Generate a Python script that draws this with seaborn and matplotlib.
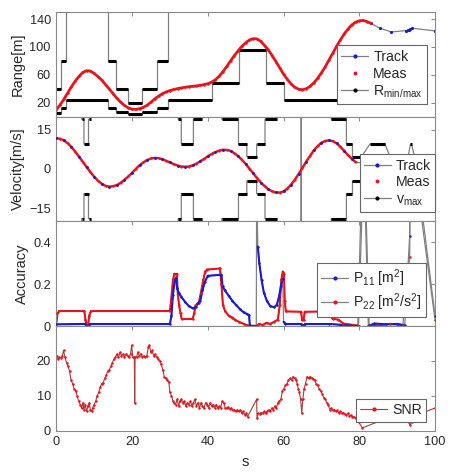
import numpy as np
import pandas as pd
import seaborn as sns
import matplotlib.pyplot as plt
from matplotlib.lines import Line2D

# ---------------- range panel ----------------
range_s = list(range(0, 84))
range_meas = [10, 17, 25, 34, 43, 51, 58, 63.5, 66, 65.5, 62, 57.5, 52.5, 46, 39.6, 33, 26.4, 20.8, 16.1, 12.7,
              10.8, 10.5, 11.5, 13.5, 16.5, 21, 25.5, 29.5, 33, 35.5, 37.5, 39, 40.3, 41.3, 42.2, 43, 43.6, 44.2,
              45, 46, 47.3, 49.5, 53, 58, 64.5, 72, 80, 87.5, 94.5, 101, 106, 110, 112, 111.5, 108, 102, 95.7,
              87.5, 79, 70, 61, 53.5, 47, 42, 39.4, 38.7, 40.1, 43.5, 48.5, 55, 62.9, 71.5, 81.3, 91, 101, 110,
              118.6, 125.5, 131.5, 135.5, 137.5, 138, 136.5, 134]
range_track_s = [83, 85.4, 88.5, 92.4, 92.8, 93.2, 93.5, 93.8, 100]
range_track = [134, 127, 121.5, 123.5, 124, 125, 126, 127, 123]

rmax_s = [0, 1.2, 1.2, 2.6, 2.6, 13.7, 13.7, 15.8, 15.8, 18.8, 18.8, 22.5, 22.5, 26.5, 26.5, 29.6, 29.6, 100]
rmax_v = [40, 40, 80, 80, 170, 170, 80, 80, 40, 40, 20, 20, 40, 40, 80, 80, 170, 170]
rmin_s = [0, 1.2, 1.2, 2.6, 2.6, 13.7, 13.7, 15.8, 15.8, 18.8, 18.8, 22.5, 22.5, 26.5, 26.5, 29.6, 29.6,
          41, 41, 48.3, 48.3, 55.4, 55.4, 60, 60, 80]
rmin_v = [6, 6, 12, 12, 24, 24, 12, 12, 6.5, 6.5, 3.2, 3.2, 6.5, 6.5, 12, 12, 24, 24, 48, 48, 96, 96, 48, 48,
          24, 24]

# ---------------- velocity panel ----------------
vel_s = list(range(0, 80))
vel_meas = [11.8, 11.5, 10.9, 9.8, 8.4, 6.6, 4.7, 2.7, 0.7, -1.2, -3.0, -4.5, -5.7, -6.5, -6.8, -6.6, -6.2, -5.3,
            -4.2, -2.9, -1.5, 0.0, 1.4, 2.5, 3.4, 4.0, 4.2, 4.1, 3.7, 3.1, 2.5, 1.8, 1.3, 0.9, 0.8, 0.9, 1.35,
            2.0, 2.9, 3.8, 4.8, 5.7, 6.4, 7.0, 7.3, 7.25, 6.9, 6.0, 4.9, 3.5, 1.9, 0.1, -1.7, -3.5, -5.2, -6.6,
            -7.8, -8.6, -9.0, -9.05, -8.6, -7.5, -6.0, -4.1, -1.9, 0.4, 2.8, 5.0, 7.1, 8.7, 10.0, 10.7, 10.9,
            10.6, 9.8, 8.5, 6.9, 5.3, 3.9, 2.6]
vel_tail_s = [79, 88, 97.6, 100]
vel_tail = [2.6, 1.0, -0.3, -4.2]

vmax_s = [0, 6.7, 6.7, 7.3, 7.3, 8.5, 8.5, 9.1, 9.1, 32.2, 32.2, 33.0, 33.0, 36.2, 36.2, 38.4, 38.4, 43.7,
          43.7, 48.1, 48.1, 50.3, 50.3, 52.9, 52.9, 55.1, 55.1, 58.2, 58.2, 64.7, 64.7, 64.7, 64.7, 72.6, 72.6,
          76.6, 76.6, 78.2, 78.2, 80.6, 82.8, 86.8, 88.1, 92.9, 93.5, 93.8, 95]
vmax_v = [25, 25, 19, 19, 9.5, 9.5, 19, 19, 25, 25, 19, 19, 9.5, 9.5, 19, 19, 25, 25, 19, 19, 9.5, 9.5, 4.7,
          4.7, 9.5, 9.5, 19, 19, 25, 25, -25, -25, 25, 25, 19, 19, 9.5, 9.5, 4.7, 4.7, 9.5, 9.5, 4.7, 4.7,
          9.5, 9.5, 2]

# ---------------- accuracy panel ----------------
p11_s = [0, 7.6, 8.0, 8.5, 8.9, 30.0, 30.4, 30.8, 31.3, 31.6, 31.9, 32.3, 33.0, 34.0, 35.0, 36.0, 36.8, 37.5,
         38.0, 38.6, 39.2, 40.0, 43.6, 43.9, 44.5, 45.5, 46.5, 47.5, 48.5, 49.5, 50.3, 50.9, 51.1, 52.8, 52.9,
         53.0, 53.2, 53.6, 54.2, 54.8, 55.6, 56.5, 57.5, 58.2, 58.8, 59.3, 59.8, 60.0, 60.5, 64.7, 65.0, 65.4,
         65.7, 72.0, 75.0, 78.0, 79.8, 80.8, 81.5, 82.4, 84, 87, 90, 92, 93.3, 93.4, 96.2, 100]
p11 = [0.008, 0.01, 0.002, 0.002, 0.01, 0.01, 0.05, 0.15, 0.22, 0.23, 0.18, 0.16, 0.14, 0.115, 0.095, 0.085,
       0.09, 0.11, 0.12, 0.17, 0.21, 0.24, 0.245, 0.19, 0.17, 0.145, 0.12, 0.1, 0.08, 0.065, 0.058, 0.052, 0.0,
       0.0, 0.6, 0.6, 0.38, 0.3, 0.22, 0.16, 0.12, 0.095, 0.09, 0.1, 0.14, 0.19, 0.225, 0.02, 0.01, 0.01, 0.004,
       0.004, 0.01, 0.01, 0.006, 0.001, 0.0, 0.6, 0.6, 0.0, 0.012, 0.008, 0.01, 0.003, 0.43, 0.6, 0.6, 0.05]
p22_s = [0, 0.3, 0.7, 7.4, 7.7, 8.0, 8.4, 8.7, 9.1, 30.0, 30.3, 30.8, 31.2, 31.8, 32.1, 32.4, 32.8, 33.1, 36.0,
         36.4, 36.8, 37.6, 38.2, 38.8, 39.3, 39.8, 43.2, 43.6, 44.0, 44.6, 45.5, 46.5, 47.2, 48.2, 49.5, 50.3,
         52.9, 53.5, 54.5, 55.5, 56.5, 57.5, 58.5, 59.0, 59.4, 59.8, 60.1, 60.3, 60.6, 64.6, 64.9, 65.3, 65.6,
         71.7, 72.0, 73.0, 74.5, 75.8, 78.4, 79.6, 80.5, 81.7, 82.6, 85, 88, 91.5, 93.3, 93.4, 95.8, 100]
p22 = [0.01, 0.06, 0.07, 0.07, 0.03, 0.005, 0.005, 0.05, 0.07, 0.07, 0.12, 0.22, 0.25, 0.25, 0.15, 0.10, 0.06,
       0.035, 0.035, 0.06, 0.10, 0.11, 0.16, 0.22, 0.26, 0.27, 0.275, 0.20, 0.10, 0.07, 0.05, 0.04, 0.03, 0.02,
       0.01, 0.003, 0.0, 0.01, 0.005, 0.015, 0.01, 0.02, 0.03, 0.1, 0.22, 0.26, 0.25, 0.12, 0.07, 0.068, 0.03,
       0.03, 0.068, 0.07, 0.05, 0.035, 0.03, 0.012, 0.005, 0.002, 0.6, 0.6, 0.005, 0.003, 0.01, 0.005, 0.33, 0.6,
       0.6, 0.03]

# ---------------- SNR panel ----------------
snr_s = [0, 0.05, 0.4, 0.8, 1.2, 1.6, 1.9, 2.3, 2.7, 3.1, 3.5, 3.9, 4.3, 4.7, 5.1, 5.5, 5.9, 6.3, 6.7, 7.0, 7.3,
         7.6, 8.0, 8.3, 8.7, 9.0, 9.3, 9.6, 10.0, 10.4, 10.8, 11.2, 11.6, 12.0, 12.4, 12.8, 13.2, 13.6, 14.0,
         14.4, 14.8, 15.2, 15.6, 16.0, 16.4, 16.8, 17.2, 17.6, 18.0, 18.4, 18.8, 19.2, 19.6, 19.9, 20.2, 20.6,
         20.7, 20.8, 21.2, 21.5, 21.9, 22.3, 22.7, 23.1, 23.5, 23.9, 24.3, 24.6, 24.9, 25.3, 25.7, 26.1, 26.5,
         26.9, 27.3, 27.7, 28.1, 28.5, 28.9, 29.3, 29.7, 30.0, 30.4, 30.8, 31.1, 31.5, 31.9, 32.3, 32.6, 33.0,
         33.4, 33.8, 34.2, 34.6, 35.0, 35.4, 35.8, 36.2, 36.6, 37.0, 37.4, 37.8, 38.2, 38.6, 39.0, 39.4, 39.8,
         40.2, 40.6, 41.0, 41.4, 41.8, 42.2, 42.6, 43.0, 43.4, 43.8, 44.2, 44.6, 45.0, 45.4, 45.8, 46.2, 46.6,
         47.0, 47.4, 47.8, 48.2, 48.6, 49.0, 49.4, 49.8, 50.2, 50.5, 52.9, 53.0, 53.3, 53.7, 54.1, 54.5, 54.9,
         55.3, 55.7, 56.1, 56.5, 56.9, 57.3, 57.7, 58.1, 58.5, 58.9, 59.3, 59.7, 60.1, 60.5, 60.9, 61.3, 61.7,
         62.1, 62.5, 62.9, 63.3, 63.6, 63.9, 64.2, 64.5, 64.8, 65.1, 65.4, 65.8, 66.2, 66.6, 67.0, 67.4, 67.8,
         68.2, 68.6, 69.0, 69.4, 69.8, 70.2, 70.6, 71.0, 71.4, 71.8, 72.2, 72.6, 73.0, 73.4, 73.8, 74.2, 74.6,
         75.0, 75.4, 75.8, 76.2, 76.6, 77.0, 77.4, 77.8, 78.2, 78.6, 79.0, 79.8, 80.8, 86, 93.0, 93.4, 93.8,
         96, 100]
snr = [0, 21.5, 20.5, 21, 20.8, 21.5, 23, 21, 19.5, 18.5, 17, 14.5, 13.5, 12, 11.5, 10, 8.5, 7.5, 6.5, 8, 6,
       7.5, 5.5, 7, 8, 6, 5.5, 6.5, 7.5, 8.5, 10, 11, 12.5, 13.5, 13.8, 15, 16, 17, 17.5, 18.5, 19.5, 20.5, 21,
       22, 21, 22.5, 21.5, 22, 21, 22, 21.5, 21, 22, 24.5, 21, 21, 8, 21, 21, 22.5, 21.5, 22, 21, 21.5, 21,
       21.5, 24, 24.5, 22.5, 23, 21.5, 22, 21, 20.5, 20, 19, 17.5, 15.5, 15, 14.5, 14, 11, 10, 8.5, 8, 7.5, 9,
       7, 8.5, 9, 8, 8.5, 7, 8, 7.5, 8.5, 7, 8, 9, 7, 8, 6.5, 8, 7, 6.5, 8, 7.5, 6.5, 8, 7, 7.5, 6.5, 7.5, 6.5,
       7, 6.5, 8.5, 8, 6.5, 6.5, 6.8, 6.2, 6.5, 5.8, 6, 5.5, 6, 5.5, 6, 5, 5.5, 4.5, 5, 4, 9, 3.5, 5, 4.8, 5.2,
       5, 5.5, 5, 5.5, 6, 5.5, 6.5, 6, 7, 6.5, 8, 8.5, 9, 11.5, 12, 13, 13.5, 14.5, 15, 14.5, 15.5, 15, 14.5,
       13.5, 12, 11, 9, 5, 9, 12, 13.5, 15.5, 15, 15.5, 15, 14.8, 14.5, 13.5, 13, 12, 11.5, 10.5, 9.5, 9, 8,
       7.5, 6, 6.5, 5.8, 6, 5.5, 5.8, 5, 5.5, 5, 5.2, 4.8, 4.5, 5, 4.2, 4.5, 4, 4, 3.5, 2.5, 0.8, 3, 2.5, 1.5,
       2.5, 4.8, 6.5]

GRAY = '#808080'
RED = '#e8141c'
BLUE = '#1a1ad0'
TXT = '#262626'


def set_style():
    sns.set_style('white')
    plt.rcParams.update({
        'font.family': ['Liberation Sans', 'DejaVu Sans'],
        'font.size': 9,
        'axes.edgecolor': '#8a8a8a',
        'axes.linewidth': 0.8,
        'xtick.color': '#8a8a8a',
        'ytick.color': '#8a8a8a',
        'xtick.labelcolor': TXT,
        'ytick.labelcolor': TXT,
        'axes.labelcolor': TXT,
    })


def draw_line(ax, s, v, **kw):
    df = pd.DataFrame({'s': s, 'v': v})
    sns.lineplot(data=df, x='s', y='v', ax=ax, estimator=None, sort=False, **kw)


def draw_bound(ax, s, v, lo, hi):
    draw_line(ax, s, v, color=GRAY, linewidth=0.9)
    for i in range(len(s) - 1):
        if v[i] == v[i + 1] and lo < v[i] < hi and s[i + 1] > s[i]:
            ax.plot([s[i], s[i + 1]], [v[i], v[i]], color='black', lw=2.2, solid_capstyle='butt')


def draw_cov(ax, s, v, color):
    # thin grey polyline, coloured where the samples are dense (small jumps)
    draw_line(ax, s, v, color=GRAY, linewidth=0.9)
    for i in range(len(s) - 1):
        if abs(v[i + 1] - v[i]) < 0.15 and max(v[i], v[i + 1]) < 0.45:
            ax.plot([s[i], s[i + 1]], [v[i], v[i + 1]], color=color, lw=1.5, solid_capstyle='round')
    ok = [i for i in range(len(s)) if v[i] < 0.45]
    sns.scatterplot(x=[s[i] for i in ok], y=[v[i] for i in ok], ax=ax, color=color, s=3, linewidth=0,
                    zorder=4)


def finish_axis(ax, ylim, yticks, ylabel, show_x=False):
    ax.set_xlim(0, 100)
    ax.set_ylim(*ylim)
    ax.set_yticks(yticks)
    ax.set_xticks([0, 20, 40, 60, 80, 100])
    ax.tick_params(direction='in', length=3, width=0.7, top=True, right=True, labelsize=9.2, pad=4)
    if not show_x:
        ax.set_xticklabels([])
    ax.set_xlabel('')
    ax.set_ylabel(ylabel, fontsize=10.5, labelpad=3)
    for sp in ax.spines.values():
        sp.set_visible(True)


def make_legend(ax, handles, labels, anchor):
    leg = ax.legend(handles, labels, loc='lower right', bbox_to_anchor=anchor, frameon=True, fancybox=False,
                    edgecolor='#666666', framealpha=1, fontsize=10.2, handlelength=1.9, borderpad=0.3,
                    labelspacing=0.2, handletextpad=0.35, borderaxespad=0)
    leg.get_frame().set_linewidth(0.8)


def main():
    set_style()
    fig = plt.figure(figsize=(4.74, 4.74), dpi=100)
    left, width, height = 0.1188, 0.799, 0.2207
    ax1 = fig.add_axes([left, 0.7538, width, height])
    ax2 = fig.add_axes([left, 0.5333, width, height])
    ax3 = fig.add_axes([left, 0.3122, width, height])
    ax4 = fig.add_axes([left, 0.0914, width, height])

    # range
    draw_bound(ax1, rmax_s, rmax_v, 0, 150)
    draw_bound(ax1, rmin_s, rmin_v, 0, 150)
    draw_line(ax1, range_track_s, range_track, color=GRAY, linewidth=0.9, marker='o', markersize=1.5,
              markerfacecolor=BLUE, markeredgecolor=BLUE)
    draw_line(ax1, range_s, range_meas, color=RED, linewidth=2.0, marker='o', markersize=1.8,
              markeredgewidth=0)
    finish_axis(ax1, (0, 150), [20, 60, 100, 140], 'Range[m]')
    make_legend(ax1,
                [Line2D([], [], color=GRAY, lw=0.9, marker='o', ms=2, mfc=BLUE, mec=BLUE),
                 Line2D([], [], color=RED, lw=0, marker='o', ms=1.8),
                 Line2D([], [], color=GRAY, lw=0.9, marker='o', ms=2, mfc='black', mec='black')],
                ['Track', 'Meas', r'R$_{\mathregular{min/max}}$'], (0.979, 0.121))

    # velocity
    draw_bound(ax2, vmax_s, vmax_v, -20, 20)
    draw_bound(ax2, vmax_s, [-x for x in vmax_v], -20, 20)
    draw_line(ax2, vel_tail_s, vel_tail, color=GRAY, linewidth=0.9)
    draw_line(ax2, vel_s, vel_meas, color=RED, linewidth=1.8, marker='o', markersize=1.6, markeredgewidth=0)
    sns.scatterplot(x=vel_s[::2], y=vel_meas[::2], ax=ax2, color=BLUE, s=4, linewidth=0, zorder=5)
    finish_axis(ax2, (-20, 20), [-15, 0, 15], 'Velocity[m/s]')
    make_legend(ax2,
                [Line2D([], [], color=GRAY, lw=0.9, marker='o', ms=2, mfc=BLUE, mec=BLUE),
                 Line2D([], [], color=RED, lw=0, marker='o', ms=1.8),
                 Line2D([], [], color=GRAY, lw=0.9, marker='o', ms=2, mfc='black', mec='black')],
                ['Track', 'Meas', r'v$_{\mathregular{max}}$'], (1.0, 0.089))

    # accuracy
    draw_cov(ax3, p22_s, p22, RED)
    draw_cov(ax3, p11_s, p11, BLUE)
    finish_axis(ax3, (0, 0.5), [0, 0.2, 0.4], 'Accuracy')
    ax3.set_yticklabels(['0', '0.2', '0.4'])
    make_legend(ax3,
                [Line2D([], [], color=GRAY, lw=0.9, marker='o', ms=2, mfc=BLUE, mec=BLUE),
                 Line2D([], [], color=GRAY, lw=0.9, marker='o', ms=2, mfc=RED, mec=RED)],
                [r'P$_{\mathregular{11}}$ [m$^{\mathregular{2}}$]',
                 r'P$_{\mathregular{22}}$ [m$^{\mathregular{2}}$/s$^{\mathregular{2}}$]'], (0.976, 0.083))

    # SNR
    draw_line(ax4, snr_s, snr, color='#a04040', linewidth=0.8, marker='o', markersize=1.8,
              markerfacecolor=RED, markeredgewidth=0)
    finish_axis(ax4, (0, 30), [0, 10, 20], '', show_x=True)
    ax4.set_xlabel('s', fontsize=10.5, labelpad=5)
    make_legend(ax4,
                [Line2D([], [], color='#a04040', lw=0.8, marker='o', ms=2, mfc=RED, mec=RED)],
                ['SNR'], (0.976, 0.086))

    fig.savefig('out.png', dpi=100)


if __name__ == '__main__':
    main()
